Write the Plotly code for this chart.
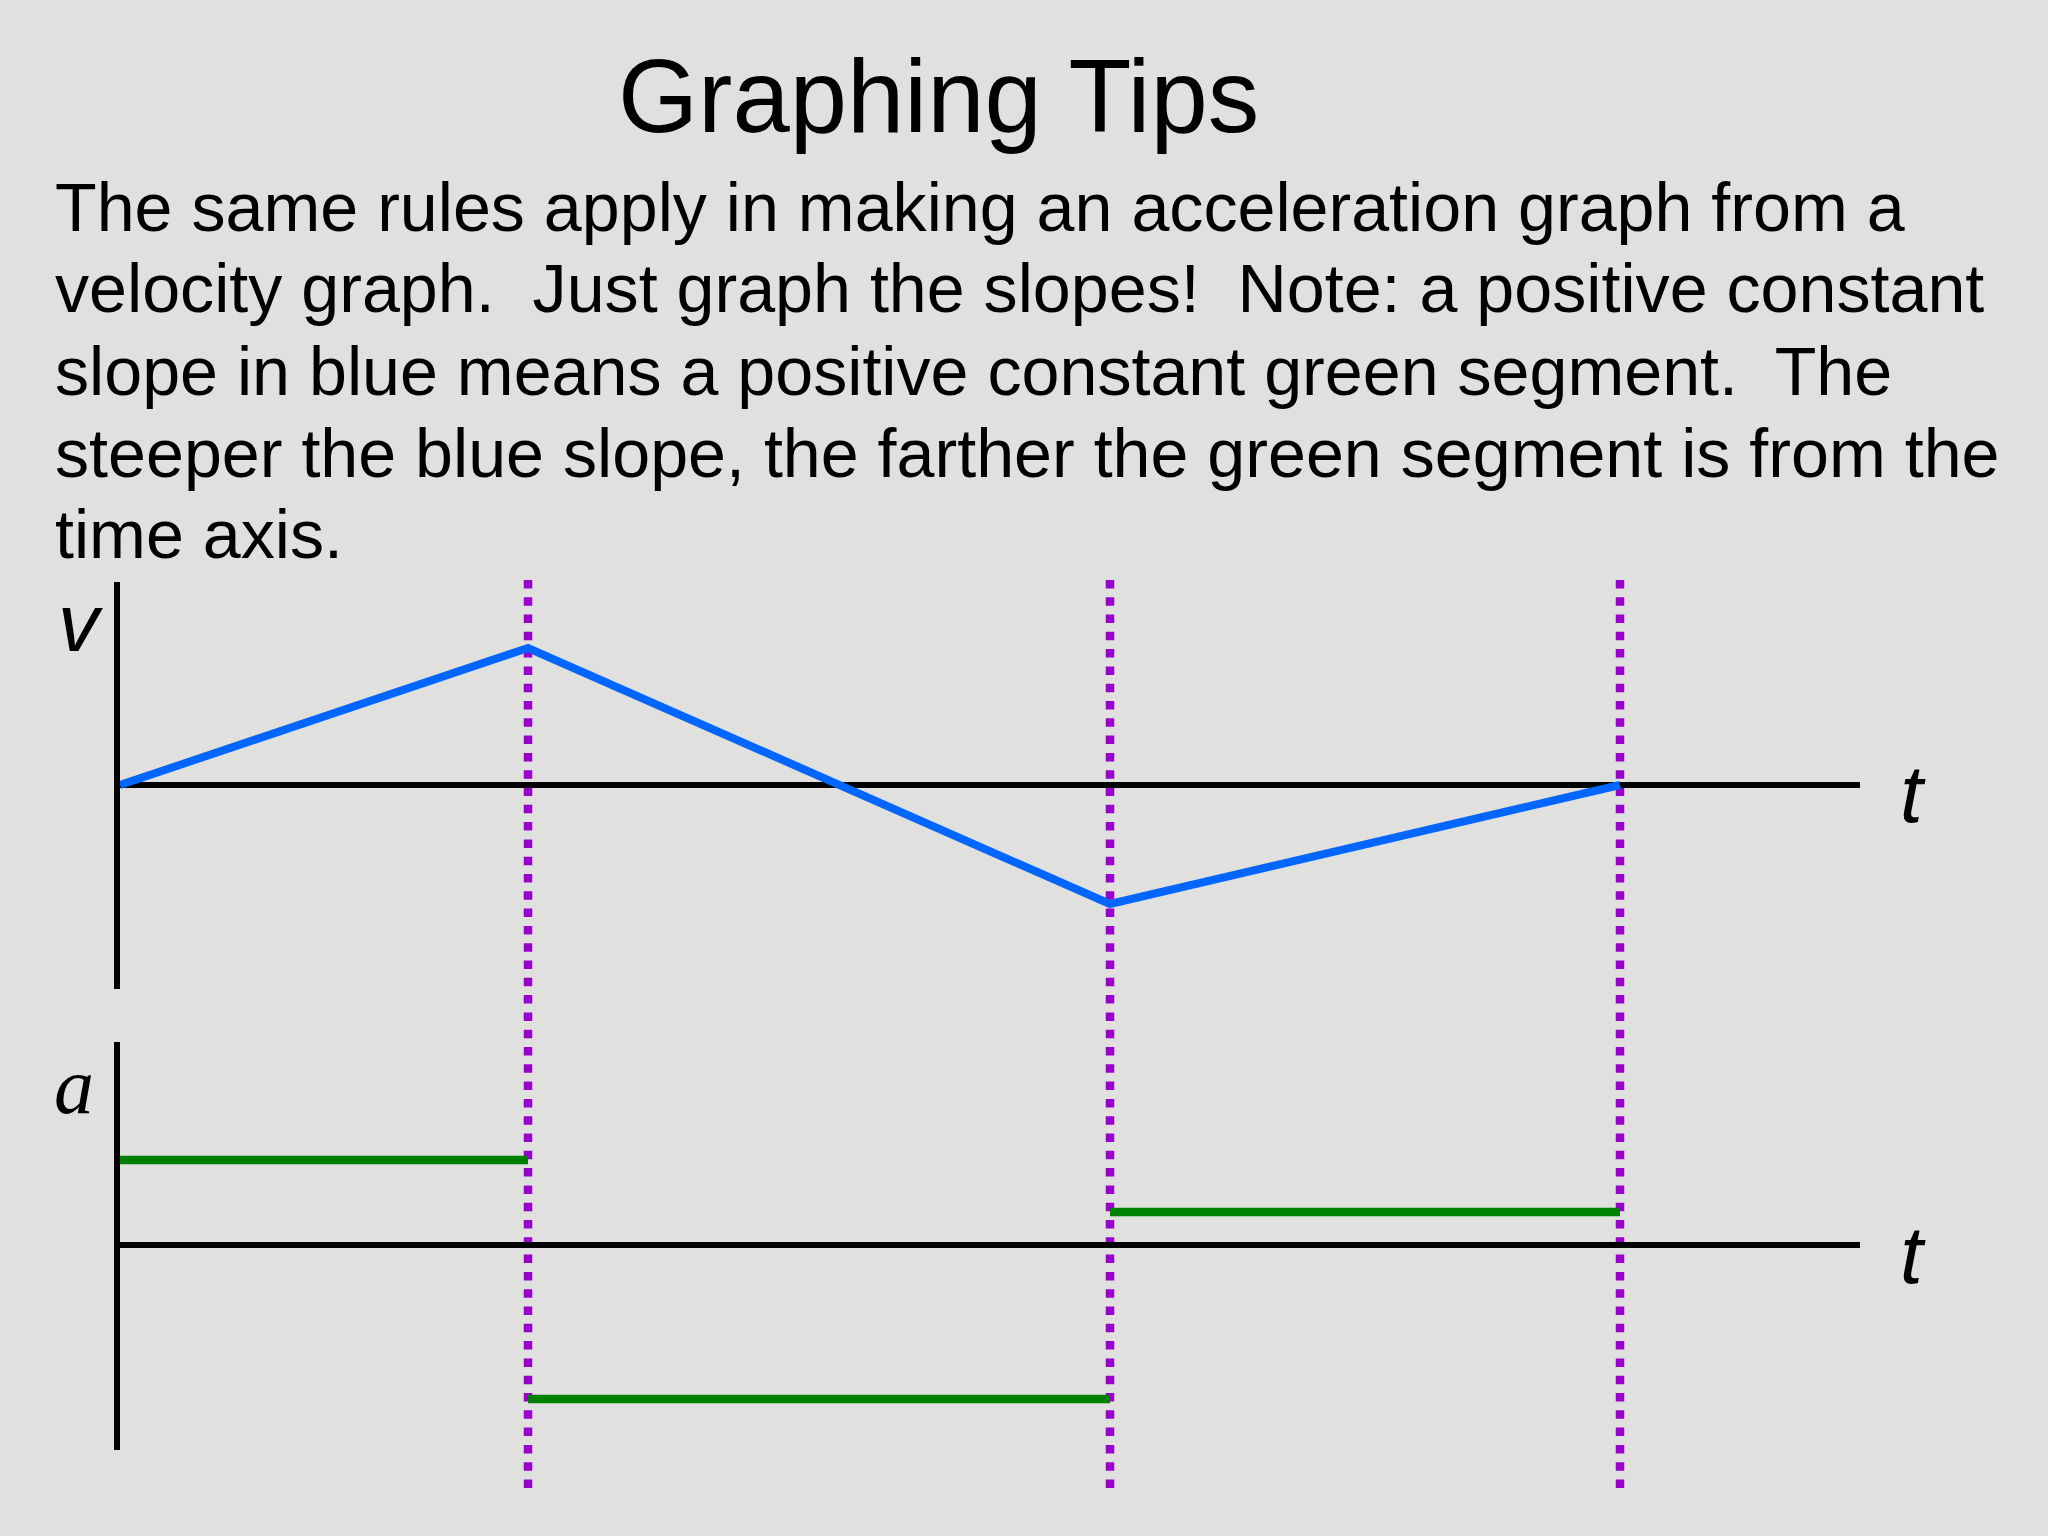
import plotly.graph_objects as go

# ---- data ----
title_text = "Graphing Tips"
body_lines = [
    "The same rules apply in making an acceleration graph from a",
    "velocity graph.  Just graph the slopes!  Note: a positive constant",
    "slope in blue means a positive constant green segment.  The",
    "steeper the blue slope, the farther the green segment is from the",
    "time axis.",
]
t_breaks = [0, 4.08, 9.9, 15.0]          # times where slopes change
v_values = [0, 1.37, -1.19, 0]           # velocity at those times
a_start = [0, 4.08, 9.9]                 # acceleration segments start
a_end = [4.08, 9.9, 15.0]                # acceleration segments end
a_values = [0.85, -1.54, 0.33]           # constant acceleration values
t_max = 17.4
v_range = [-2.04, 2.03]
a_range = [-2.05, 2.03]
axis_labels = {"v": "v", "a": "a", "t": "t"}

# ---- style ----
W, H = 2048, 1536
BG = "#e0e0de"
BLUE = "#0066ff"
GREEN = "#008000"
PURPLE = "#9900cc"
SANS = "Liberation Sans, Arial, sans-serif"
SERIF = "Liberation Serif, Times New Roman, serif"

def px_x(p):
    return p / W

def px_y(p):
    return 1 - p / H

fig = go.Figure()

# velocity graph
fig.add_trace(go.Scatter(x=t_breaks, y=v_values, mode="lines",
                         line=dict(color=BLUE, width=8), xaxis="x", yaxis="y",
                         showlegend=False, hoverinfo="skip"))

# acceleration segments
for s, e, a in zip(a_start, a_end, a_values):
    fig.add_trace(go.Scatter(x=[s, e], y=[a, a], mode="lines",
                             line=dict(color=GREEN, width=8.5), xaxis="x2", yaxis="y2",
                             showlegend=False, hoverinfo="skip"))

xdom = [px_x(120), px_x(1860)]
axis_common = dict(showgrid=False, showticklabels=False, ticks="", fixedrange=True)

fig.update_layout(
    width=W, height=H,
    margin=dict(l=0, r=0, t=0, b=0),
    paper_bgcolor=BG, plot_bgcolor=BG,
    xaxis=dict(domain=xdom, range=[0, t_max], anchor="y", showline=False,
               zeroline=False, **axis_common),
    yaxis=dict(domain=[px_y(989), px_y(582)], range=v_range, anchor="x",
               showline=True, linecolor="black", linewidth=6,
               zeroline=True, zerolinecolor="black", zerolinewidth=6, **axis_common),
    xaxis2=dict(domain=xdom, range=[0, t_max], anchor="y2", showline=False,
                zeroline=False, **axis_common),
    yaxis2=dict(domain=[px_y(1450), px_y(1042)], range=a_range, anchor="x2",
                showline=True, linecolor="black", linewidth=6,
                zeroline=True, zerolinecolor="black", zerolinewidth=6, **axis_common),
)

# dotted purple guides at the slope changes (behind the curves)
for t in t_breaks[1:]:
    fig.add_shape(type="line", xref="x", yref="paper", x0=t, x1=t,
                  y0=px_y(1488), y1=px_y(572), layer="below",
                  line=dict(color=PURPLE, width=8.5, dash="8.5px,8.8px"))

annotations = []
annotations.append(dict(text=title_text, xref="paper", yref="paper",
                        x=px_x(938), y=px_y(97), xanchor="center", yanchor="middle",
                        showarrow=False, font=dict(family=SANS, size=103, color="black")))
line_centers = [207, 288, 371, 453, 534]
for txt, yc in zip(body_lines, line_centers):
    annotations.append(dict(text=txt, xref="paper", yref="paper",
                            x=px_x(53), y=px_y(yc), xanchor="left", yanchor="middle",
                            showarrow=False, align="left",
                            font=dict(family=SANS, size=68.2, color="black")))
annotations.append(dict(text="<i>" + axis_labels["v"] + "</i>", xref="paper", yref="paper",
                        x=px_x(80), y=px_y(622), xanchor="center", yanchor="middle",
                        showarrow=False, font=dict(family=SANS, size=82, color="black")))
annotations.append(dict(text="<i>" + axis_labels["a"] + "</i>", xref="paper", yref="paper",
                        x=px_x(74), y=px_y(1086), xanchor="center", yanchor="middle",
                        showarrow=False, font=dict(family=SERIF, size=80, color="black")))
for yc in [793, 1254]:
    annotations.append(dict(text="<i>" + axis_labels["t"] + "</i>", xref="paper", yref="paper",
                            x=px_x(1913), y=px_y(yc), xanchor="center", yanchor="middle",
                            showarrow=False, font=dict(family=SANS, size=82, color="black")))
fig.update_layout(annotations=annotations)

fig.write_html("out.html", post_script="document.body.style.margin='0';",
               config={"displayModeBar": False})
